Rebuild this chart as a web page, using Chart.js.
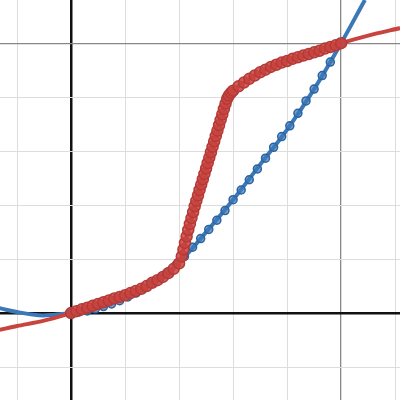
<!DOCTYPE html>
<html><head><script src="https://cdn.jsdelivr.net/npm/chart.js"></script>
<style>html,body{margin:0;padding:0;background:#fff}#w{width:400px;height:400px}</style></head>
<body><div id="w"><canvas id="c"></canvas></div>
<script>
const blueLineX=[-1.32,-1,-0.6,-0.3,0,0.5,1,1.5,2,2.5,3,3.5,4,4.5,5,5.44];
const blueLineY=[0.09,0.02,-0.04,-0.03,0,0.1,0.31,0.55,0.94,1.5,2.1,2.75,3.4,4.15,5,5.8];
const blueDotX=[0,.15,.3,.45,.6,.75,.9,1.05,1.2,1.35,1.5,1.65,1.8,1.95,2.1,2.25,2.4,2.55,2.7,2.85,3,3.15,3.3,3.45,3.6,3.75,3.9,4.05,4.2,4.35,4.5,4.65,4.8,5];
const blueDotY=[0,.02,.04,.08,.12,.17,.23,.3,.37,.46,.55,.65,.76,.9,1.05,1.22,1.38,1.55,1.72,1.9,2.1,2.28,2.47,2.67,2.87,3.07,3.27,3.47,3.7,3.93,4.15,4.4,4.65,5];
const redDotX=[0,.1,.2,.3,.4,.5,.6,.7,.8,.9,1,1.1,1.2,1.3,1.4,1.5,1.6,1.7,1.8,1.9,2.0,
2.05,2.08,2.11,2.14,2.17,2.2,2.23,2.26,2.29,2.32,2.35,2.38,2.41,2.44,2.47,2.5,2.53,2.56,2.59,2.62,2.65,2.68,2.71,2.74,2.77,2.8,2.83,2.86,2.89,2.92,2.96,
3.0,3.1,3.2,3.3,3.4,3.5,3.6,3.7,3.8,3.9,4.0,4.1,4.2,4.3,4.4,4.5,4.6,4.7,4.8,4.9,5];
const redDotY=[0,.035,.07,.1,.135,.17,.2,.235,.27,.3,.33,.37,.41,.45,.5,.56,.61,.67,.74,.82,.92,
1.05,1.18,1.3,1.42,1.54,1.65,1.76,1.87,1.98,2.08,2.18,2.28,2.38,2.48,2.58,2.68,2.78,2.88,2.98,3.08,3.18,3.28,3.38,3.48,3.58,3.68,3.78,3.88,3.97,4.03,4.08,
4.12,4.2,4.27,4.34,4.4,4.46,4.51,4.56,4.6,4.64,4.67,4.71,4.74,4.77,4.8,4.83,4.86,4.9,4.93,4.96,5];
const redLineX=[-1.32,-1,-0.5].concat(redDotX,[5.5,6.09]);
const redLineY=[-0.31,-0.24,-0.14].concat(redDotY,[5.14,5.28]);
const gridTicks=[-1,0,1,2,3,4,5,6];
const xy=(X,Y)=>X.map((x,i)=>({x,y:Y[i]}));
const BLUE='#3b78b8',RED='#c9433f';
function gc(ctx){const v=ctx.tick&&ctx.tick.value;if(v===0)return '#111';if(v===5)return '#888';return '#ddd';}
function gw(ctx){const v=ctx.tick&&ctx.tick.value;if(v===0)return 2.5;if(v===5)return 1.3;return 1;}
const axis=(min,max)=>({type:'linear',min,max,ticks:{display:false,padding:0},border:{display:false},
 afterBuildTicks:a=>{a.ticks=gridTicks.map(v=>({value:v}));},grid:{color:gc,lineWidth:gw,drawTicks:false,tickLength:0}});
new Chart(document.getElementById('c'),{type:'scatter',data:{datasets:[
 {data:xy(redDotX,redDotY),showLine:false,pointRadius:5.5,pointBackgroundColor:'rgba(201,67,63,0.85)',pointBorderColor:'#b33a36',pointBorderWidth:1.5,order:1},
 {data:xy(redLineX,redLineY),showLine:true,pointRadius:0,borderColor:RED,borderWidth:4,tension:0.3,order:2},
 {data:xy(blueDotX,blueDotY),showLine:false,pointRadius:4,pointBackgroundColor:'rgba(59,120,184,0.7)',pointBorderColor:'#2c64a0',pointBorderWidth:1.5,order:3},
 {data:xy(blueLineX,blueLineY),showLine:true,pointRadius:0,borderColor:BLUE,borderWidth:4,tension:0.4,order:4}
]},options:{responsive:true,maintainAspectRatio:false,animation:false,layout:{padding:0,autoPadding:false},
 plugins:{legend:{display:false},tooltip:{enabled:false}},
 scales:{x:axis(-1.315,6.09),y:axis(-1.61,5.8)}}});
</script></body></html>
